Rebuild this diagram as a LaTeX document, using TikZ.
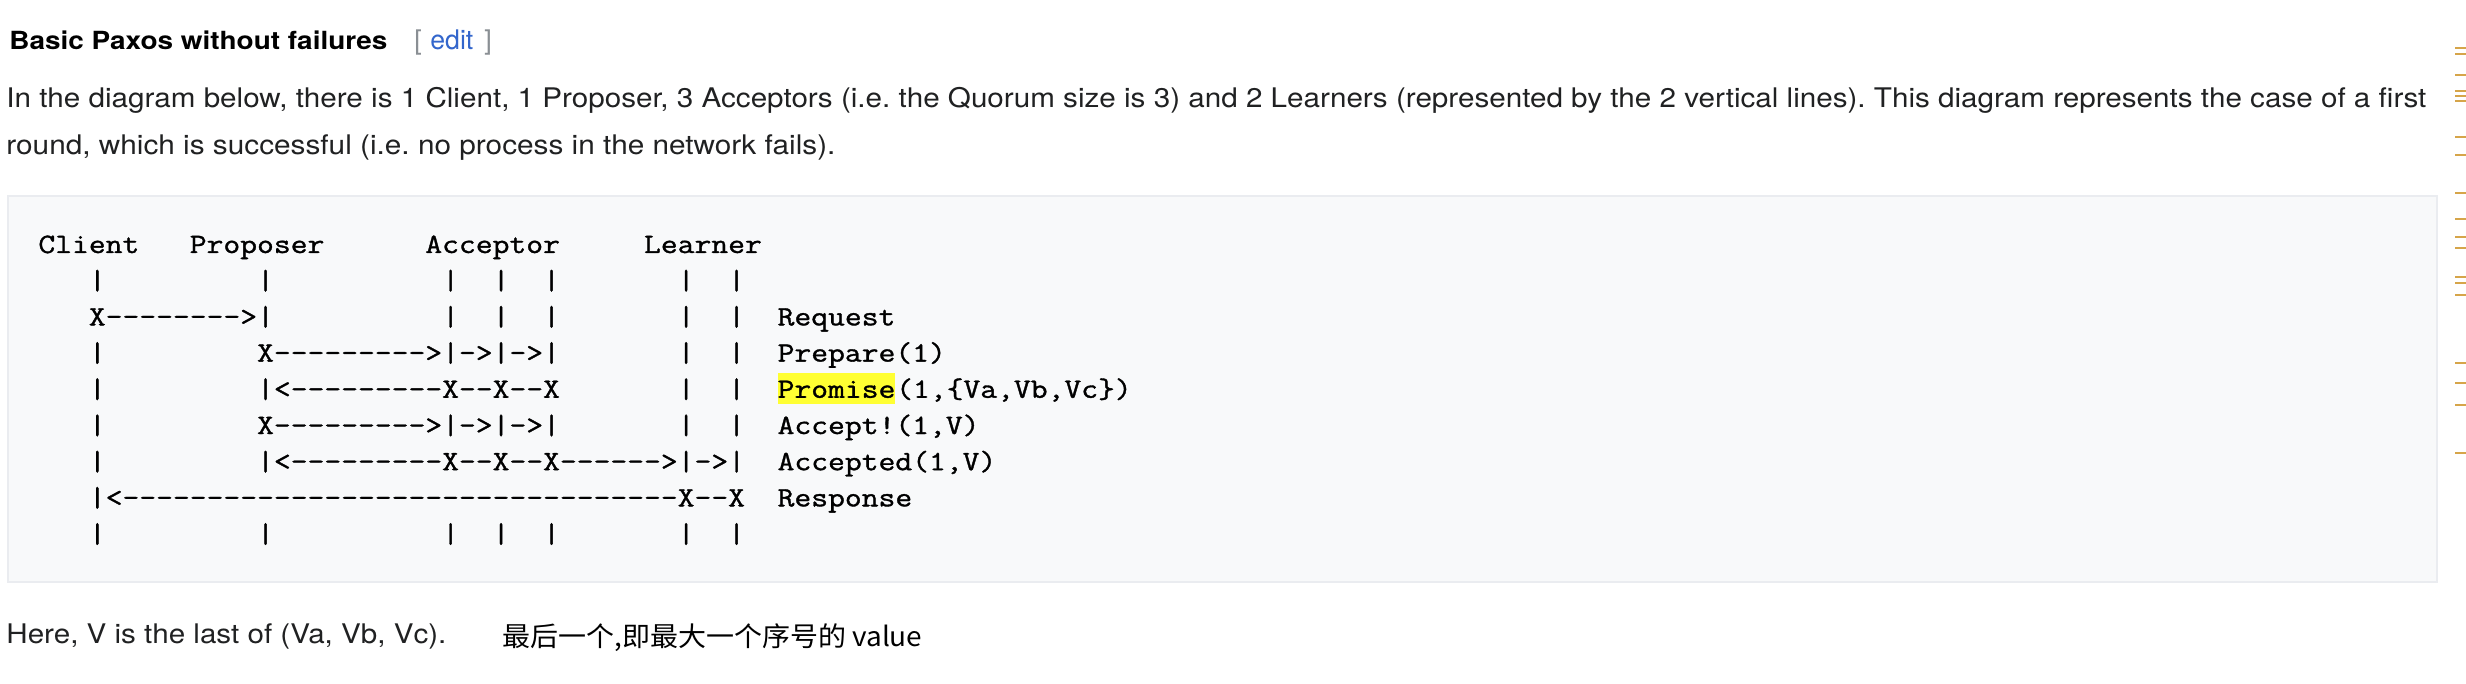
\documentclass[tikz,border=0pt]{standalone}
\usepackage{fontspec}
\usepackage{graphicx}
\setmainfont{TeX Gyre Heros}
\setmonofont{Latin Modern Mono}[FakeStretch=1.1667, FakeBold=1.2]
\newfontfamily\cjk{Noto Sans CJK SC}
\frenchspacing
\definecolor{bodyc}{HTML}{202122}
\definecolor{boxfill}{HTML}{F8F9FA}
\definecolor{boxdraw}{HTML}{EAECF0}
\definecolor{linkc}{HTML}{3366CC}
\definecolor{brkc}{HTML}{8A8F94}
\definecolor{hlc}{HTML}{FFFF33}
\definecolor{tickc}{HTML}{D6A54A}
\newdimen\pxu \pxu=0.5pt
\tikzset{
  body/.style={anchor=base west, inner sep=0pt, text=bodyc, font=\fontsize{13.5}{16}\selectfont},
  head/.style={anchor=base west, inner sep=0pt, text=black, font=\bfseries\fontsize{12.5}{15}\selectfont},
  art/.style={anchor=base west, inner sep=0pt, text=black, font=\ttfamily\fontsize{14}{16}\selectfont},
  codebox/.style={fill=boxfill, draw=boxdraw, line width=1pt},
  tickmark/.style={fill=tickc}
}
\begin{document}
\begin{tikzpicture}[x=0.5pt, y=-0.5pt]
\fill[white] (0,0) rectangle (2466,684);
\useasboundingbox (0,0) rectangle (2466,684);

% heading
\node[head] (title) at (9,50) {\resizebox{378\pxu}{\height}{Basic Paxos without failures}};
\node[body, text=brkc] (lbr) at (414,50) {[};
\node[body, text=linkc] (edit) at (430,50) {\resizebox{43\pxu}{\height}{edit}};
\node[body, text=brkc] (rbr) at (484,50) {]};

% paragraph
\node[body] (p1) at (6,108) {\resizebox{2420\pxu}{\height}{In the diagram below, there is 1 Client, 1 Proposer, 3 Acceptors (i.e. the Quorum size is 3) and 2 Learners (represented by the 2 vertical lines). This diagram represents the case of a first}};
\node[body] (p2) at (6,155) {\resizebox{829\pxu}{\height}{round, which is successful (i.e. no process in the network fails).}};

% code box
\draw[codebox] (8,196) rectangle (2437,582);

% ascii diagram rows
\node[art] (r0) at (38,253.0) {Client~~~Proposer~~~~~~Acceptor~~~~~Learner};
\node[art] (r1) at (38,289.2) {~~~|~~~~~~~~~|~~~~~~~~~~|~~|~~|~~~~~~~|~~|};
\node[art] (r2) at (38,325.4) {~~~X-------->|~~~~~~~~~~|~~|~~|~~~~~~~|~~|};
\node[art] (r3) at (38,361.6) {~~~|~~~~~~~~~X--------->|->|->|~~~~~~~|~~|};
\node[art] (r4) at (38,397.8) {~~~|~~~~~~~~~|<---------X--X--X~~~~~~~|~~|};
\node[art] (r5) at (38,434.0) {~~~|~~~~~~~~~X--------->|->|->|~~~~~~~|~~|};
\node[art] (r6) at (38,470.2) {~~~|~~~~~~~~~|<---------X--X--X------>|->|};
\node[art] (r7) at (38,506.4) {~~~|<---------------------------------X--X};
\node[art] (r8) at (38,542.6) {~~~|~~~~~~~~~|~~~~~~~~~~|~~|~~|~~~~~~~|~~|};

% labels
\node[art] (req)  at (777.2,325.4) {Request};
\node[art] (prep) at (777.2,361.6) {Prepare(1)};
\node[art, fill=hlc, text height=12.4pt, text depth=3.1pt] (prom) at (777.2,397.8) {Promise};
\node[art] (promr) at (prom.base east) {(1,\{Va,Vb,Vc\})};
\node[art] (acc)  at (777.2,434.0) {Accept!(1,V)};
\node[art] (accd) at (777.2,470.2) {Accepted(1,V)};
\node[art] (resp) at (777.2,506.4) {Response};

% bottom text
\node[body] (note) at (6,643) {\resizebox{440\pxu}{\height}{Here, V is the last of (Va, Vb, Vc).}};
\node[body, text=black] (cn) at (502,646) {\resizebox{420\pxu}{\height}{\cjk\fontsize{13.5}{16}\selectfont 最后一个,即最大一个序号的 value}};

% orange ticks at right edge
\foreach \t in {48,54,75,91,96,101,137,155,193,219,237,248,277,283,295,363,383,405,453}
  \fill[tickmark] (2455,\t-1.2) rectangle (2466,\t+1.2);
\end{tikzpicture}
\end{document}
